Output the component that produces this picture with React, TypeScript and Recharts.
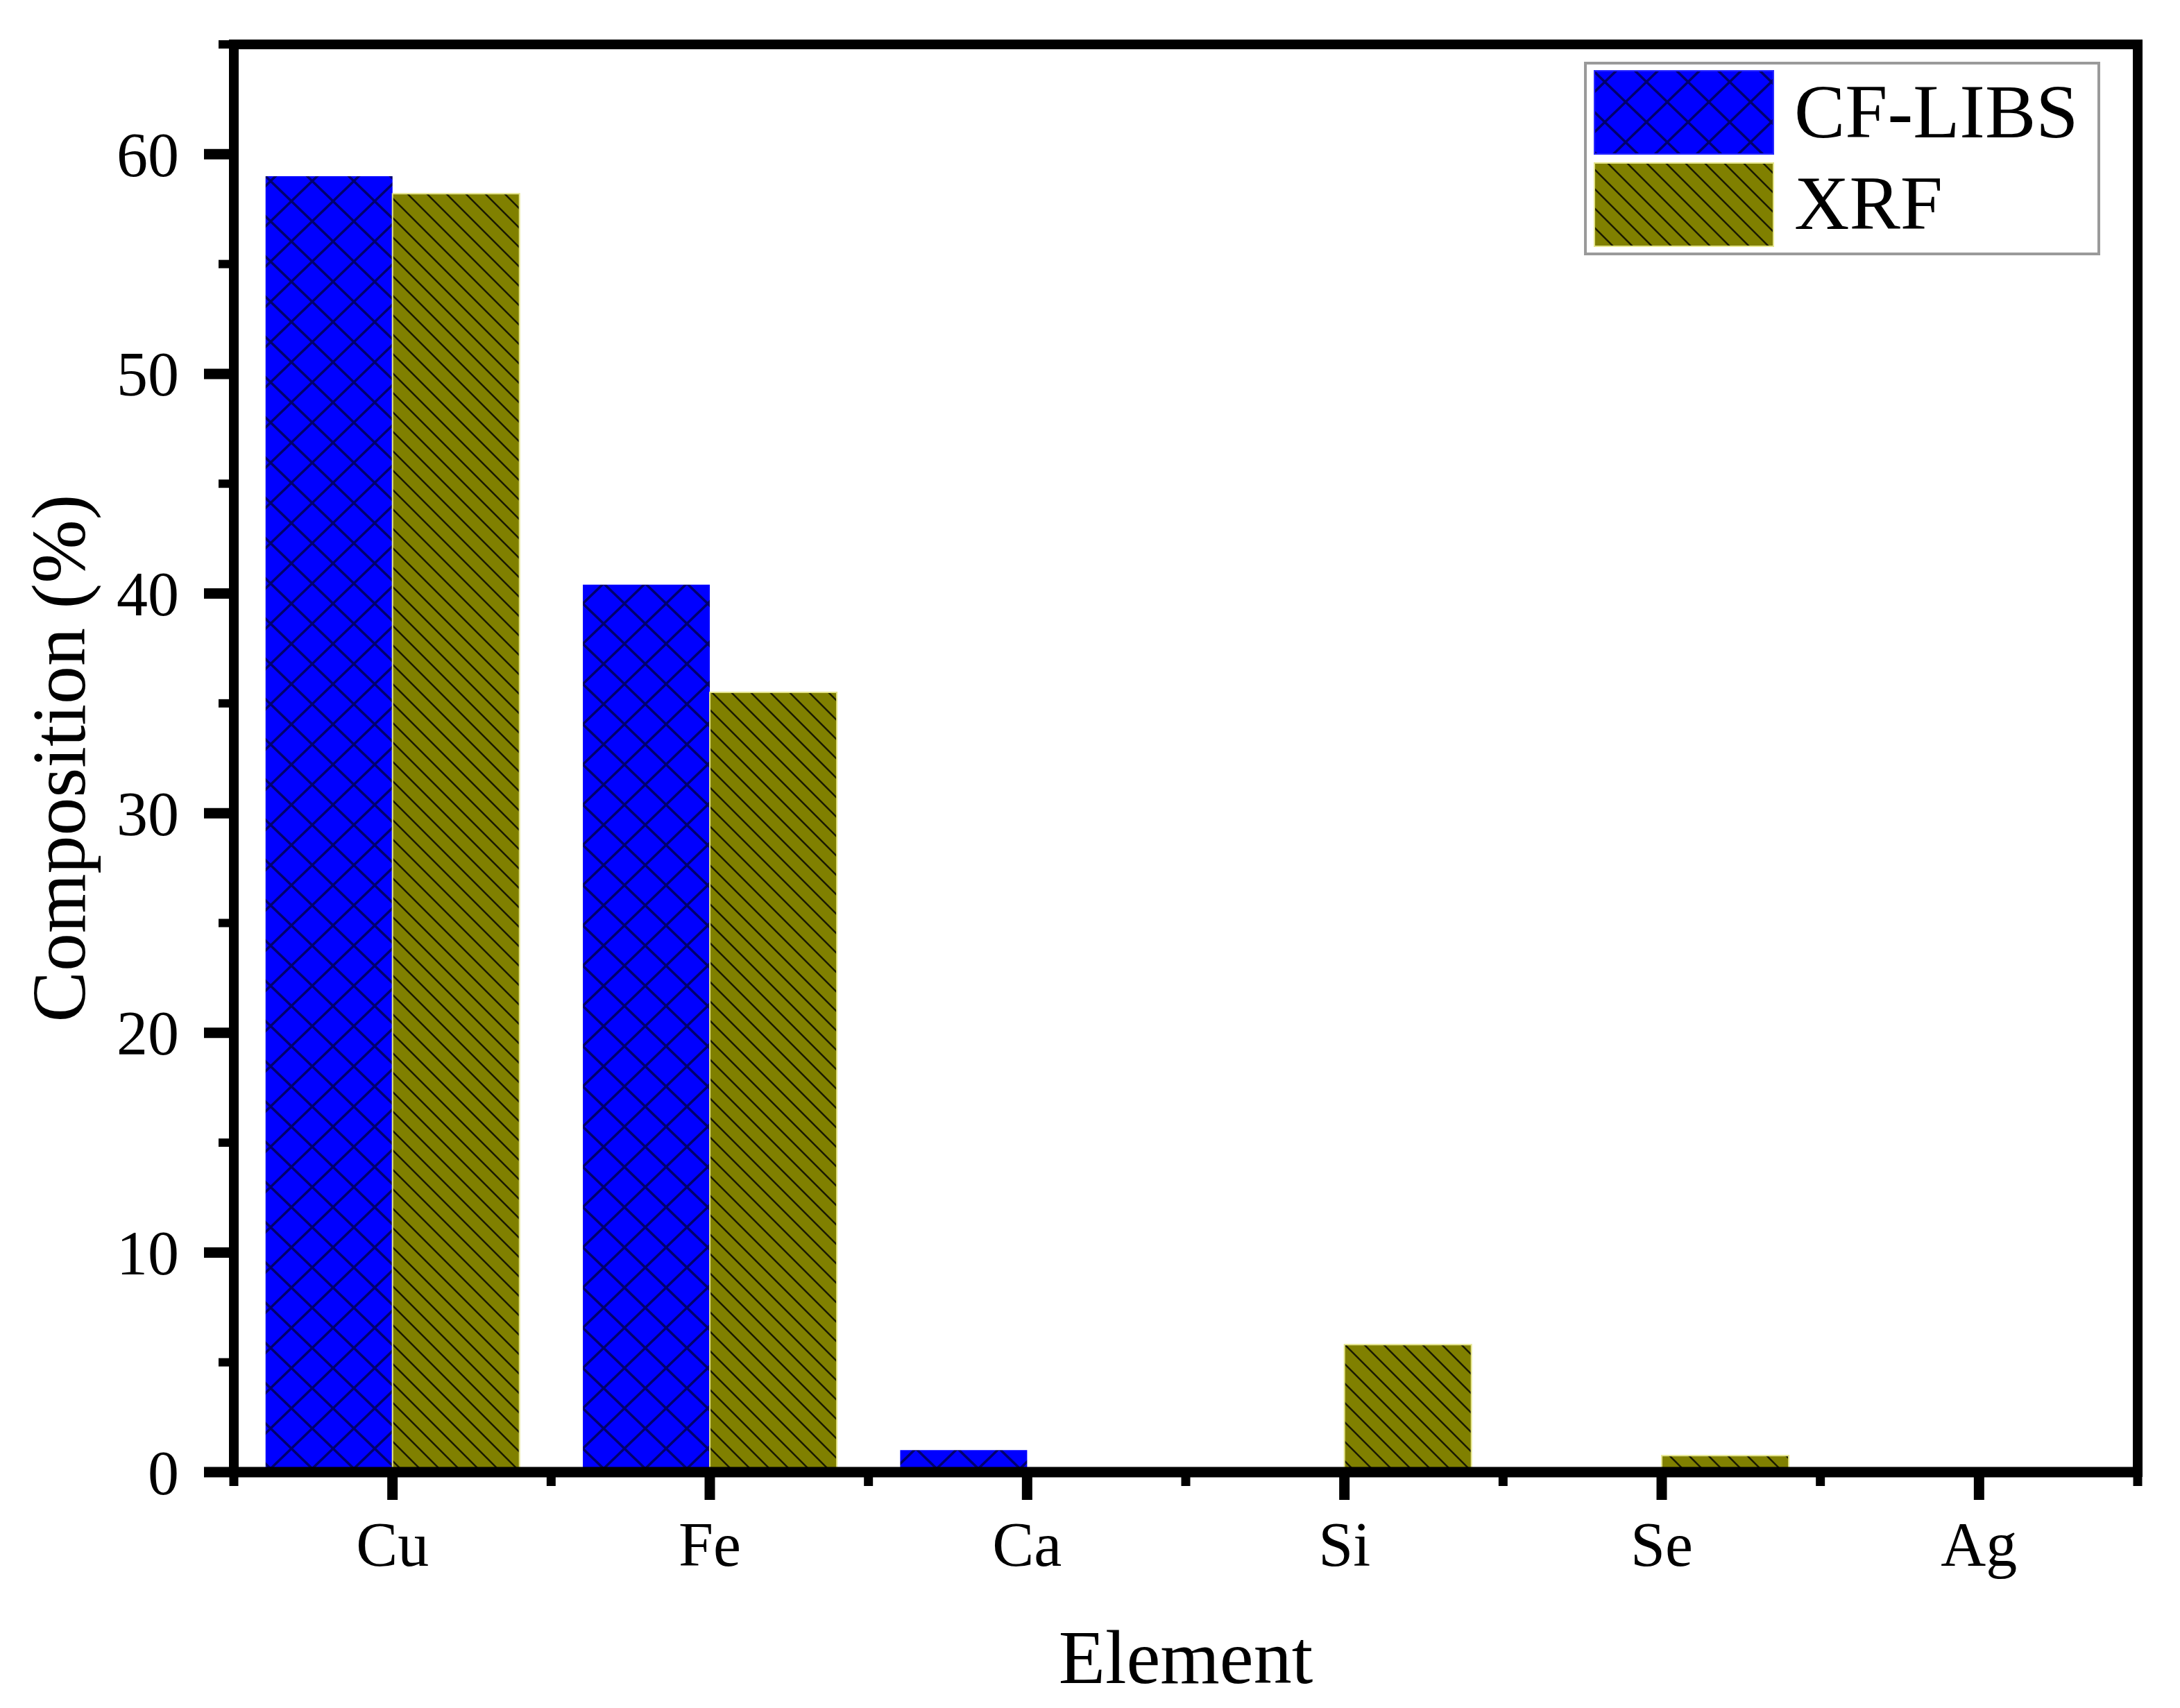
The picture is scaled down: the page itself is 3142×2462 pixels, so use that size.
import { Bar, BarChart, Label, Legend, ReferenceArea, XAxis, YAxis } from "recharts";

const elements = ["Cu", "Fe", "Ca", "Si", "Se", "Ag"];
const cfLibs = [59.0, 40.4, 1.0, 0, 0, 0];
const xrf = [58.2, 35.5, 0, 5.8, 0.75, 0];
const yTicks = [0, 5, 10, 15, 20, 25, 30, 35, 40, 45, 50, 55, 60, 65];
const yMax = 65;

const data = elements.map((element, i) => ({
  element,
  cfLibs: cfLibs[i],
  xrf: xrf[i],
}));

const FONT = "'Liberation Serif', 'Times New Roman', serif";

const patternOf: Record<string, string> = {
  "CF-LIBS": "url(#cfHatch)",
  XRF: "url(#xrfHatch)",
};

function YTick(props: any) {
  const { x, y, payload } = props;
  const major = payload.value % 10 === 0;
  return (
    <g>
      <line
        x1={x}
        x2={x - (major ? 43 : 22)}
        y1={y}
        y2={y}
        stroke="#000"
        strokeWidth={major ? 15 : 12}
      />
      {major && (
        <text
          x={x - 79}
          y={y}
          dy="0.35em"
          textAnchor="end"
          fontFamily={FONT}
          fontSize={90}
          fill="#000"
        >
          {payload.value}
        </text>
      )}
    </g>
  );
}

function XTick(props: any) {
  const { x, y, payload, index, visibleTicksCount, width } = props;
  const half =
    typeof payload.offset === "number" && payload.offset > 0
      ? payload.offset
      : width / visibleTicksCount / 2;
  return (
    <g>
      <line x1={x} x2={x} y1={y} y2={y + 40} stroke="#000" strokeWidth={15} />
      <line
        x1={x - half}
        x2={x - half}
        y1={y}
        y2={y + 20}
        stroke="#000"
        strokeWidth={13}
      />
      {index === visibleTicksCount - 1 && (
        <line
          x1={x + half}
          x2={x + half}
          y1={y}
          y2={y + 20}
          stroke="#000"
          strokeWidth={13}
        />
      )}
      <text
        x={x}
        y={y + 135}
        textAnchor="middle"
        fontFamily={FONT}
        fontSize={90}
        fill="#000"
      >
        {payload.value}
      </text>
    </g>
  );
}

function XTitle(props: any) {
  const vb = props.viewBox;
  return (
    <text
      x={vb.x + vb.width / 2}
      y={vb.y + 304}
      textAnchor="middle"
      fontFamily={FONT}
      fontSize={110}
      fill="#000"
    >
      Element
    </text>
  );
}

function YTitle(props: any) {
  const vb = props.viewBox;
  const cx = vb.x + 122;
  const cy = vb.y + vb.height / 2;
  return (
    <text
      x={cx}
      y={cy}
      transform={`rotate(-90, ${cx}, ${cy})`}
      textAnchor="middle"
      fontFamily={FONT}
      fontSize={110}
      fill="#000"
    >
      Composition (%)
    </text>
  );
}

function LegendBox(props: any) {
  const payload = props.payload || [];
  return (
    <svg width={744} height={279} style={{ display: "block" }}>
      <rect
        x={2}
        y={2}
        width={740}
        height={275}
        fill="#fff"
        stroke="#9a9a9a"
        strokeWidth={4}
      />
      {payload.map((entry: any, i: number) => (
        <g key={entry.value}>
          <rect
            x={15}
            y={13 + i * 133}
            width={258}
            height={120}
            fill={patternOf[entry.value] || entry.color}
            stroke={entry.value === "XRF" ? "#e4e48c" : "#2a2aff"}
            strokeWidth={2}
          />
          <text
            x={303}
            y={109 + i * 132}
            fontFamily={FONT}
            fontSize={110}
            fill="#000"
          >
            {entry.value}
          </text>
        </g>
      ))}
    </svg>
  );
}

export default function App() {
  return (
    <div style={{ position: "absolute", left: 0, top: 0, background: "#fff" }}>
      <svg width={0} height={0} style={{ position: "absolute" }}>
        <defs>
          <pattern
            id="cfHatch"
            patternUnits="userSpaceOnUse"
            width={60}
            height={58}
          >
            <rect width={60} height={58} fill="#0000ff" />
            <path
              d="M0,0 L60,58 M60,0 L0,58"
              stroke="#00006e"
              strokeWidth={3.5}
            />
          </pattern>
          <pattern
            id="xrfHatch"
            patternUnits="userSpaceOnUse"
            width={28}
            height={28}
          >
            <rect width={28} height={28} fill="#808000" />
            <path
              d="M0,0 L28,28 M-2,26 L2,30 M26,-2 L30,2"
              stroke="#1a1a00"
              strokeWidth={2.5}
            />
          </pattern>
        </defs>
      </svg>

      <BarChart
        width={3142}
        height={2462}
        data={data}
        margin={{ top: 64, right: 61, left: 0, bottom: 0 }}
        barCategoryGap="10%"
        barGap={0}
      >
        <Legend
          layout="vertical"
          align="center"
          verticalAlign="middle"
          content={<LegendBox />}
          wrapperStyle={{ left: 2283, top: 89, width: 744, height: 279 }}
        />

        <Bar
          dataKey="cfLibs"
          name="CF-LIBS"
          fill="url(#cfHatch)"
          isAnimationActive={false}
        />
        <Bar
          dataKey="xrf"
          name="XRF"
          fill="url(#xrfHatch)"
          stroke="#e4e48c"
          strokeWidth={2}
          isAnimationActive={false}
        />

        <ReferenceArea
          x1={elements[0]}
          x2={elements[elements.length - 1]}
          y1={0}
          y2={yMax}
          fill="none"
          fillOpacity={0}
          stroke="#000"
          strokeWidth={14}
          ifOverflow="visible"
        />

        <XAxis
          dataKey="element"
          interval={0}
          height={340}
          tickSize={0}
          tickMargin={0}
          tickLine={false}
          tick={<XTick />}
          axisLine={{ stroke: "#000", strokeWidth: 15 }}
        >
          <Label content={<XTitle />} />
        </XAxis>
        <YAxis
          domain={[0, yMax]}
          ticks={yTicks}
          interval={0}
          width={337}
          tickSize={0}
          tickMargin={0}
          tickLine={false}
          tick={<YTick />}
          axisLine={{ stroke: "#000", strokeWidth: 14 }}
        >
          <Label content={<YTitle />} />
        </YAxis>
      </BarChart>
    </div>
  );
}
